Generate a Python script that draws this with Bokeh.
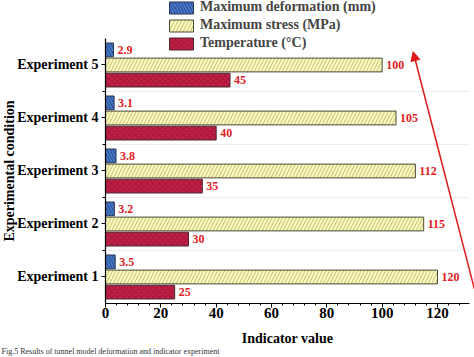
from bokeh.plotting import figure
from bokeh.models import (ColumnDataSource, FixedTicker, Legend, LegendItem, Arrow,
                          NormalHead, Label, LabelSet)
from bokeh.core.properties import value
from bokeh.embed import file_html
from bokeh.resources import INLINE

experiments = ["Experiment 1", "Experiment 2", "Experiment 3", "Experiment 4", "Experiment 5"]
positions = [1, 2, 3, 4, 5]
deformation = [3.5, 3.2, 3.8, 3.1, 2.9]
stress = [120, 115, 112, 105, 100]
temperature = [25, 30, 35, 40, 45]
x_ticks = [0, 20, 40, 60, 80, 100, 120]
boundaries = [1.5, 2.5, 3.5, 4.5]

FONT = "Liberation Serif"
off = 0.285
h = 0.26
X_MAX = 131.5

src = ColumnDataSource(dict(
    pos=positions,
    y_def=[p + off for p in positions],
    y_str=positions,
    y_tmp=[p - off for p in positions],
    deformation=deformation,
    stress=stress,
    temperature=temperature,
    l_def=[str(v) for v in deformation],
    l_str=[str(v) for v in stress],
    l_tmp=[str(v) for v in temperature],
))

# frame covers the whole canvas; axes drawn at fixed locations
p = figure(width=474, height=357, output_backend="svg", toolbar_location=None,
           x_range=(-37.95, 133.37), y_range=(-0.519, 6.217),
           min_border_left=0, min_border_right=0, min_border_top=0, min_border_bottom=0)
p.outline_line_color = None
p.background_fill_color = "white"
p.xgrid.visible = False
p.ygrid.visible = False

# faint separators between groups
p.segment(x0=[0] * len(boundaries), x1=[X_MAX] * len(boundaries), y0=boundaries, y1=boundaries,
          line_color="#ececec", line_width=1)

r_def = p.hbar(y="y_def", right="deformation", left=0, height=h, source=src,
               fill_color="#4579c8", line_color="#2a3550", line_width=1,
               hatch_pattern="\\", hatch_color="#1f3f80", hatch_scale=6, hatch_weight=0.8)
r_str = p.hbar(y="y_str", right="stress", left=0, height=h, source=src,
               fill_color="#fbf9c4", line_color="#4a4a3a", line_width=1,
               hatch_pattern="/", hatch_color="#b8b050", hatch_scale=7, hatch_weight=0.8)
r_tmp = p.hbar(y="y_tmp", right="temperature", left=0, height=h, source=src,
               fill_color="#bf1f45", line_color="#4a2a30", line_width=1,
               hatch_pattern="x", hatch_color="#8e1030", hatch_scale=6, hatch_weight=0.7)

for ycol, xcol, lcol in [("y_def", "deformation", "l_def"), ("y_str", "stress", "l_str"),
                         ("y_tmp", "temperature", "l_tmp")]:
    ls = LabelSet(x=xcol, y=ycol, text=lcol, source=src, x_offset=4, y_offset=0,
                  text_color="#e0201e", text_font=value(FONT), text_font_style="bold",
                  text_font_size="12px", text_baseline="middle")
    p.add_layout(ls)

# axes
p.xaxis.ticker = FixedTicker(ticks=x_ticks, minor_ticks=[v for v in range(0, 132, 4)])
p.yaxis.ticker = FixedTicker(ticks=positions, minor_ticks=boundaries)
p.yaxis.major_label_overrides = {pp: e for pp, e in zip(positions, experiments)}
p.xaxis.fixed_location = 0.5
p.yaxis.fixed_location = 0
p.xaxis.bounds = (0, X_MAX)
p.yaxis.bounds = (0.5, 5.5)
for ax in (p.xaxis[0], p.yaxis[0]):
    ax.axis_line_color = "black"
    ax.axis_line_width = 1.2
    ax.major_tick_line_color = "black"
    ax.minor_tick_line_color = "black"
    ax.major_label_text_font = FONT
    ax.major_label_text_font_style = "bold"
    ax.major_label_text_color = "black"
    ax.axis_label_text_font = FONT
    ax.axis_label_text_font_style = "bold"
    ax.axis_label_text_font_size = "14px"
    ax.axis_label_text_color = "black"

p.xaxis.major_label_text_font_size = "15px"
p.xaxis.major_tick_out = 4
p.xaxis.major_tick_in = 0
p.xaxis.minor_tick_out = 2
p.xaxis.minor_tick_in = 0
p.xaxis.major_label_standoff = 1
p.xaxis.axis_label = "Indicator value"
p.xaxis.axis_label_standoff = 9

p.yaxis.major_label_text_font_size = "14px"
p.yaxis.major_tick_out = 4
p.yaxis.major_tick_in = 0
p.yaxis.minor_tick_out = 3
p.yaxis.minor_tick_in = 0
p.yaxis.major_label_standoff = 3
p.yaxis.axis_label = "Experimental condition"
p.yaxis.axis_label_standoff = -3

# arrow
p.add_layout(Arrow(end=NormalHead(size=9, fill_color="#e01a1a", line_color="#e01a1a"),
                   x_start=133.3, y_start=0.78, x_end=111.2, y_end=5.25,
                   line_color="#e01a1a", line_width=1.5))

legend = Legend(items=[LegendItem(label="Maximum deformation (mm)", renderers=[r_def]),
                       LegendItem(label="Maximum stress (MPa)", renderers=[r_str]),
                       LegendItem(label="Temperature (°C)", renderers=[r_tmp])],
                location=(166, 306), orientation="vertical",
                glyph_width=30, glyph_height=15, label_height=15, spacing=2,
                padding=0, margin=0, border_line_color=None,
                background_fill_alpha=0.0,
                label_text_font=FONT, label_text_font_style="bold",
                label_text_font_size="14px", label_standoff=4)
p.add_layout(legend)

p.add_layout(Label(x=-37.6, y=-0.4,
                   text="Fig.5 Results of tunnel model deformation and indicator experiment",
                   text_font=FONT, text_font_size="8px", text_color="#333333",
                   text_baseline="middle"))

open("out.html", "w").write(file_html(p, INLINE))
